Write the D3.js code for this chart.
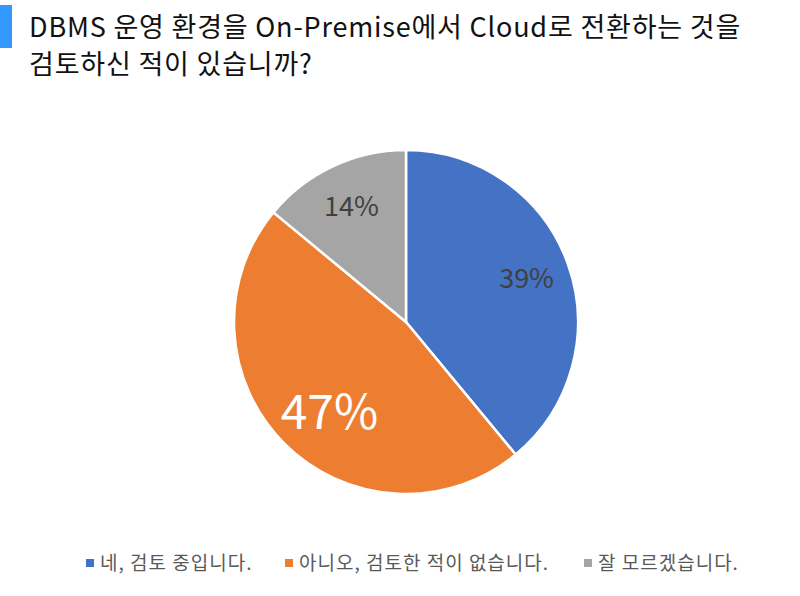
<!DOCTYPE html>
<html>
<head>
<meta charset="utf-8">
<script src="https://cdn.jsdelivr.net/npm/d3@7"></script>
<style>
  body { margin: 0; background: #fff; }
  svg { display: block; }
</style>
</head>
<body>
<div id="chart"></div>
<script>
// données
const categories = ["네, 검토 중입니다.", "아니오, 검토한 적이 없습니다.", "잘 모르겠습니다."];
const values = [39, 47, 14];
const colors = ["#4472C4", "#ED7D31", "#A5A5A5"];
const titleLines = ["DBMS 운영 환경을 On-Premise에서 Cloud로 전환하는 것을", "검토하신 적이 있습니까?"];

const width = 800, height = 596;
const cx = 406, cy = 322, radius = 172;
const font = "'Noto Sans CJK KR', 'Noto Sans', sans-serif";

const svg = d3.select("#chart").append("svg")
    .attr("width", width)
    .attr("height", height);

// barre bleue à gauche du titre
svg.append("rect")
    .attr("x", 0).attr("y", 5)
    .attr("width", 12).attr("height", 43)
    .attr("fill", "#3399FF");

svg.selectAll(".title")
    .data(titleLines)
    .enter()
    .append("text")
    .attr("class", "title")
    .attr("x", 29)
    .attr("y", (d, i) => 37 + i * 37)
    .style("font-family", font)
    .style("font-size", "27px")
    .style("letter-spacing", "0.8px")
    .style("fill", "#111")
    .text(d => d);

const data = categories.map((c, i) => ({ label: c, value: values[i], color: colors[i] }));

const pie = d3.pie().value(d => d.value).sort(null);
const arc = d3.arc().innerRadius(0).outerRadius(radius);

const g = svg.append("g").attr("transform", `translate(${cx},${cy})`);

const arcs = pie(data);

g.selectAll("path")
    .data(arcs)
    .enter()
    .append("path")
    .attr("d", arc)
    .attr("fill", d => d.data.color)
    .attr("stroke", "#fff")
    .attr("stroke-width", 2.5);

// étiquettes de pourcentage (placement "meilleur ajustement" d'Excel, à peu près)
const labelArc = d3.arc().innerRadius(radius * 0.745).outerRadius(radius * 0.745);
const labelStyle = [
    { size: 27, fill: "#404040", nudge: 0 },
    { size: 48, fill: "#ffffff", nudge: 14 },
    { size: 27, fill: "#404040", nudge: 0 }
];

g.selectAll(".pct")
    .data(arcs)
    .enter()
    .append("text")
    .attr("class", "pct")
    .attr("transform", d => `translate(${labelArc.centroid(d)})`)
    .attr("dx", (d, i) => labelStyle[i].nudge)
    .attr("text-anchor", "middle")
    .attr("dy", "0.35em")
    .style("font-family", font)
    .style("font-size", (d, i) => labelStyle[i].size + "px")
    .style("fill", (d, i) => labelStyle[i].fill)
    .text(d => d.data.value + "%");

// légende
const legendX = [86, 285, 584];
const legend = svg.selectAll(".legend")
    .data(data)
    .enter()
    .append("g")
    .attr("class", "legend")
    .attr("transform", (d, i) => `translate(${legendX[i]},563)`);

legend.append("rect")
    .attr("x", 0).attr("y", -4)
    .attr("width", 8).attr("height", 8)
    .attr("fill", d => d.color);

legend.append("text")
    .attr("x", 14)
    .attr("y", 0)
    .attr("dy", "0.35em")
    .style("font-family", font)
    .style("font-size", "19px")
    .style("letter-spacing", "1px")
    .style("fill", "#595959")
    .text(d => d.label);
</script>
</body>
</html>
